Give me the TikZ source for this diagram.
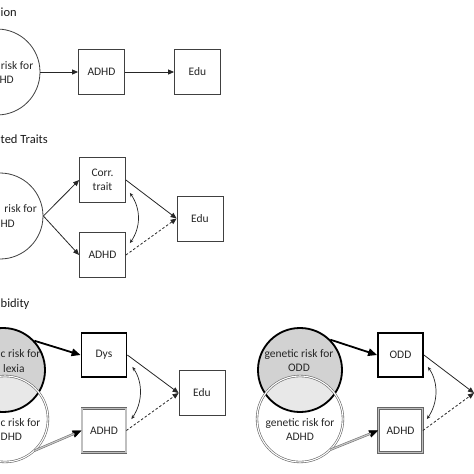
\documentclass[tikz,border=0pt]{standalone}
\usepackage{fontspec}
\setmainfont{Carlito}
\usetikzlibrary{arrows.meta,calc}
\begin{document}
\begin{tikzpicture}[x=1pt,y=-1pt,
  lbl/.style={font=\fontsize{11.5}{14}\selectfont,text=black!85,inner sep=0pt},
  ttl/.style={font=\fontsize{12.5}{14}\selectfont,text=black!90,inner sep=0pt,anchor=base west},
  box/.style={draw=black!75,line width=0.8pt,minimum width=46pt,minimum height=45pt,inner sep=0pt,
    font=\fontsize{11.5}{14}\selectfont,text=black!85,align=center},
  thickbox/.style={box,draw=black,line width=1.8pt,minimum width=45pt,minimum height=44pt},
  dblbox/.style={box,draw=black!60,double=black!25,double distance=1.1pt,line width=0.8pt,minimum width=44pt,minimum height=44pt},
  circ/.style={circle,draw=black!75,line width=0.8pt,inner sep=0pt,minimum size=86pt},
  thickcirc/.style={circle,draw=black,line width=1.8pt,inner sep=0pt,minimum size=84pt},
  dblcirc/.style={circle,draw=black!60,double=white,double distance=1.1pt,line width=0.6pt,inner sep=0pt,minimum size=86pt},
  arr/.style={-{Triangle[length=6pt,width=5pt]},line width=0.8pt,draw=black!85},
  dasharr/.style={arr,dash pattern=on 2.5pt off 2pt},
  thickarr/.style={-{Triangle[length=9pt,width=7.5pt]},line width=1.8pt,draw=black},
  dblline/.style={draw=black!55,double=black!22,double distance=1.1pt,line width=0.6pt,shorten >=8pt},
  tipline/.style={-{Triangle[length=9pt,width=7.5pt]},line width=0.4pt,draw=black},
  corr/.style={{Stealth[length=4pt,width=3.5pt]}-{Stealth[length=4pt,width=3.5pt]},line width=0.7pt,draw=black!85}
]
\useasboundingbox (0,0) rectangle (474,474);
\clip (0,0) rectangle (474,474);

% ---------- panel 1 ----------
\node[ttl] (t1) at (0.5,16) {ion};
\node[circ] (c1) at (-3,72) {};
\node[lbl,anchor=base east] (c1a) at (33.5,69) {risk for};
\node[lbl,anchor=base east] (c1b) at (14,83) {HD};
\node[box] (adhd1) at (101.5,72) {ADHD};
\node[box] (edu1) at (197.5,72) {Edu};
\draw[arr] (c1) -- (adhd1);
\draw[arr] (adhd1) -- (edu1);

% ---------- panel 2 ----------
\node[ttl] (t2) at (0.5,143) {ted Traits};
\node[circ] (c2) at (0,216) {};
\node[lbl,anchor=base east] (c2a) at (37,212) {risk for};
\node[lbl,anchor=base east] (c2b) at (15,227) {HD};
\node[box] (corr) at (102.5,180) {Corr.\\trait};
\node[box] (adhd2) at (102.5,255) {ADHD};
\node[box] (edu2) at (200,218.5) {Edu};
\draw[arr] (c2.east) -- (corr.west);
\draw[arr] (c2.east) -- (adhd2.west);
\draw[arr] (corr.east) -- (edu2.west);
\draw[dasharr] (adhd2.east) -- (edu2.west);
\coordinate (k2a) at ($(corr.south east)+(4,-10)$);
\coordinate (k2b) at ($(adhd2.north east)+(4,11)$);
\draw[corr] (k2a) .. controls +(11,16) and +(11,-16) .. (k2b);

% ---------- panel 3 left ----------
\node[ttl] (t3) at (0.5,307) {bidity};
\fill[gray!35] (3,370) circle (43);
\begin{scope}
  \clip (3,370) circle (43);
  \fill[gray!18] (5,419) circle (44);
\end{scope}
\node[thickcirc] (cdys) at (3,370) {};
\node[dblcirc] (cadhd3) at (5,419) {};
\node[lbl,anchor=base west] (c3a) at (0.5,357) {c risk for};
\node[lbl,anchor=base west] (c3b) at (3,372) {lexia};
\node[lbl,anchor=base west] (c3c) at (0.5,426) {c risk for};
\node[lbl,anchor=base west] (c3d) at (0.5,440) {DHD};
\node[thickbox] (dys) at (104,355) {Dys};
\node[dblbox] (adhd3) at (104,430.5) {ADHD};
\node[box] (edu3) at (202,393) {Edu};
\draw[thickarr] (cdys.43) -- (dys.west);
\draw[tipline] (cadhd3.-47) -- (adhd3.west);
\draw[dblline] (cadhd3.-47) -- (adhd3.west);
\draw[arr] (dys.east) -- (edu3.west);
\draw[dasharr] (adhd3.east) -- (edu3.west);
\coordinate (k3a) at ($(dys.south east)+(5,-11)$);
\coordinate (k3b) at ($(adhd3.north east)+(5,11)$);
\draw[corr] (k3a) .. controls +(11,16) and +(11,-16) .. (k3b);

% ---------- panel 3 right ----------
\fill[gray!35] (300,370) circle (43);
\begin{scope}
  \clip (300,370) circle (43);
  \fill[gray!18] (300,419) circle (44);
\end{scope}
\node[thickcirc] (codd) at (300,370) {};
\node[dblcirc] (cadhd4) at (300,419) {};
\node[lbl,align=center] (t4a) at (299,360.5) {genetic risk for\\ODD};
\node[lbl,align=center] (t4b) at (300,429.5) {genetic risk for\\ADHD};
\node[thickbox] (odd) at (400.5,355) {ODD};
\node[dblbox] (adhd4) at (400.5,430.5) {ADHD};
\coordinate (edu4) at (474,393);
\draw[thickarr] (codd.45) -- (odd.west);
\draw[tipline] (cadhd4.-45) -- (adhd4.west);
\draw[dblline] (cadhd4.-45) -- (adhd4.west);
\draw[arr] (odd.east) -- (edu4);
\draw[dasharr] (adhd4.east) -- (edu4);
\coordinate (k4a) at ($(odd.south east)+(4,-11)$);
\coordinate (k4b) at ($(adhd4.north east)+(4,11)$);
\draw[corr] (k4a) .. controls +(11,16) and +(11,-16) .. (k4b);
\end{tikzpicture}
\end{document}
